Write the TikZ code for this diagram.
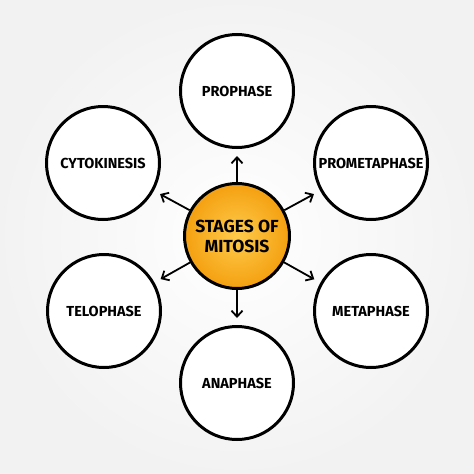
\documentclass[tikz,border=0pt]{standalone}
\usepackage{fontspec}
\setsansfont{Fira Sans}
\usetikzlibrary{arrows.meta}

\definecolor{mitosisinner}{HTML}{FFCB4C}
\definecolor{mitosisouter}{HTML}{F4A010}

\begin{document}
\begin{tikzpicture}[x=1pt,y=-1pt,
    phase/.style={circle,draw=black,line width=3pt,fill=white,minimum size=113pt,inner sep=0pt,
        font=\sffamily\bfseries\fontsize{14.5}{16}\selectfont},
    hub/.style={circle,draw=black,line width=3pt,minimum size=105pt,inner sep=0pt,align=center,
        inner color=mitosisinner,outer color=mitosisouter,
        font=\sffamily\bfseries\fontsize{17.5}{20}\selectfont},
    link/.style={line width=1.8pt,-{Straight Barb[length=6pt,width=11pt]},shorten >=7pt}]
    \shade[inner color=white,outer color=black!5] (0,0) rectangle (474,474);

    \node[hub] (hub) at (237,236) {STAGES OF\\MITOSIS};

    \node[phase] (prophase) at (237,91) {PROPHASE};
    \node[phase] (prometaphase) at (371,163) {PROMETAPHASE};
    \node[phase] (metaphase) at (371,311) {METAPHASE};
    \node[phase] (anaphase) at (237,383) {ANAPHASE};
    \node[phase] (telophase) at (104,311) {TELOPHASE};
    \node[phase] (cytokinesis) at (103,163) {CYTOKINESIS};

    \draw[link] (hub) -- (prophase);
    \draw[link] (hub) -- (prometaphase);
    \draw[link] (hub) -- (metaphase);
    \draw[link] (hub) -- (anaphase);
    \draw[link] (hub) -- (telophase);
    \draw[link] (hub) -- (cytokinesis);
\end{tikzpicture}
\end{document}
